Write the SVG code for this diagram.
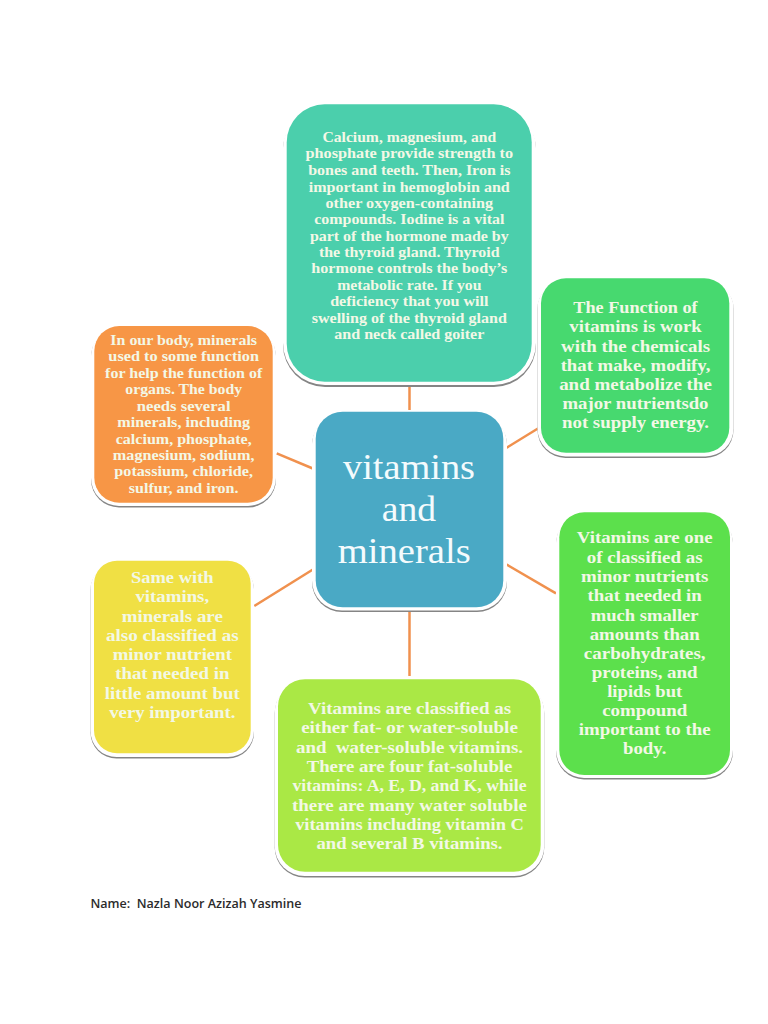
<svg xmlns="http://www.w3.org/2000/svg" width="768" height="1024" viewBox="0 0 768 1024">
<style>
.g{fill:#858585;filter:url(#b)}
.h{fill:#fff}
.t{font-family:"Liberation Serif",serif;font-weight:bold;fill:#f3f8e6;text-anchor:middle}
.c{stroke:#f0914e;stroke-width:2.5;fill:none}
</style>
<defs><filter id="b" x="-5%" y="-5%" width="110%" height="110%"><feGaussianBlur stdDeviation="0.6"/></filter></defs>
<rect width="768" height="1024" fill="#fff"/>
<g id="connectors">
<line class="c" x1="409.500" y1="387" x2="409.500" y2="410"/>
<line class="c" x1="276.700" y1="453.300" x2="314" y2="469"/>
<line class="c" x1="505.700" y1="448.300" x2="538.300" y2="428.300"/>
<line class="c" x1="254.300" y1="606" x2="313.300" y2="569.300"/>
<line class="c" x1="505.700" y1="564" x2="556" y2="593.300"/>
<line class="c" x1="409.500" y1="612" x2="409.500" y2="676"/>
</g>
<g id="node-top">
<rect class="g" x="283" y="108" width="253" height="279" rx="42"/>
<rect class="h" x="283" y="106" width="253" height="279" rx="42"/>
<rect x="286.700" y="104.300" width="245" height="277.400" rx="38" fill="#4bcfac"/>
<g class="t" font-size="15.500">
<text x="409.300" y="141.700" textLength="173.700" lengthAdjust="spacingAndGlyphs">Calcium, magnesium, and</text>
<text x="409.300" y="158.300" textLength="207.700" lengthAdjust="spacingAndGlyphs">phosphate provide strength to</text>
<text x="409.300" y="175" textLength="202.300" lengthAdjust="spacingAndGlyphs">bones and teeth. Then, Iron is</text>
<text x="409.300" y="191.700" textLength="201" lengthAdjust="spacingAndGlyphs">important in hemoglobin and</text>
<text x="409.300" y="208.300" textLength="167.700" lengthAdjust="spacingAndGlyphs">other oxygen-containing</text>
<text x="409.300" y="224.300" textLength="190.300" lengthAdjust="spacingAndGlyphs">compounds. Iodine is a vital</text>
<text x="409.300" y="241" textLength="198.700" lengthAdjust="spacingAndGlyphs">part of the hormone made by</text>
<text x="409.300" y="256.700" textLength="180.700" lengthAdjust="spacingAndGlyphs">the thyroid gland. Thyroid</text>
<text x="409.300" y="273.300" textLength="196" lengthAdjust="spacingAndGlyphs">hormone controls the body’s</text>
<text x="409.300" y="290" textLength="144.300" lengthAdjust="spacingAndGlyphs">metabolic rate. If you</text>
<text x="409.300" y="306" textLength="158.300" lengthAdjust="spacingAndGlyphs">deficiency that you will</text>
<text x="409.300" y="322.700" textLength="195.300" lengthAdjust="spacingAndGlyphs">swelling of the thyroid gland</text>
<text x="409.300" y="339.300" textLength="150" lengthAdjust="spacingAndGlyphs">and neck called goiter</text>
</g>
</g>
<g id="node-right-top">
<rect class="g" x="537.500" y="281" width="196" height="177" rx="28"/>
<rect class="h" x="537.500" y="280" width="196" height="176.500" rx="28"/>
<rect x="541" y="278.300" width="188.300" height="174.400" rx="25" fill="#47d96f"/>
<g class="t" font-size="17.500">
<text x="635.500" y="312.700" textLength="124.300" lengthAdjust="spacingAndGlyphs">The Function of</text>
<text x="635.500" y="332" textLength="132.300" lengthAdjust="spacingAndGlyphs">vitamins is work</text>
<text x="635.500" y="351.700" textLength="149" lengthAdjust="spacingAndGlyphs">with the chemicals</text>
<text x="635.500" y="370.700" textLength="149.700" lengthAdjust="spacingAndGlyphs">that make, modify,</text>
<text x="635.500" y="390" textLength="152.700" lengthAdjust="spacingAndGlyphs">and metabolize the</text>
<text x="635.500" y="409" textLength="146" lengthAdjust="spacingAndGlyphs">major nutrientsdo</text>
<text x="635.500" y="428" textLength="147" lengthAdjust="spacingAndGlyphs">not supply energy.</text>
</g>
</g>
<g id="node-left-top">
<rect class="g" x="91" y="329" width="185" height="178.500" rx="28"/>
<rect class="h" x="91" y="328" width="185" height="178" rx="28"/>
<rect x="94.300" y="326" width="178.400" height="176.700" rx="25" fill="#f79646"/>
<g class="t" font-size="15.500">
<text x="183.700" y="345" textLength="146.700" lengthAdjust="spacingAndGlyphs">In our body, minerals</text>
<text x="183.700" y="361" textLength="150.700" lengthAdjust="spacingAndGlyphs">used to some function</text>
<text x="183.700" y="377.500" textLength="157.300" lengthAdjust="spacingAndGlyphs">for help the function of</text>
<text x="183.700" y="394" textLength="116.700" lengthAdjust="spacingAndGlyphs">organs. The body</text>
<text x="183.700" y="410.500" textLength="93.700" lengthAdjust="spacingAndGlyphs">needs several</text>
<text x="183.700" y="427" textLength="132.700" lengthAdjust="spacingAndGlyphs">minerals, including</text>
<text x="183.700" y="443.500" textLength="136" lengthAdjust="spacingAndGlyphs">calcium, phosphate,</text>
<text x="183.700" y="460" textLength="141.700" lengthAdjust="spacingAndGlyphs">magnesium, sodium,</text>
<text x="183.700" y="476" textLength="138.700" lengthAdjust="spacingAndGlyphs">potassium, chloride,</text>
<text x="183.700" y="492.500" textLength="109.700" lengthAdjust="spacingAndGlyphs">sulfur, and iron.</text>
</g>
</g>
<g id="node-center">
<rect class="g" x="312" y="415" width="195" height="197" rx="30"/>
<rect class="h" x="312" y="414" width="195" height="196.500" rx="30"/>
<rect x="315.700" y="411.700" width="187.600" height="195.600" rx="27" fill="#4aa9c5"/>
<g font-family="Liberation Serif, serif" font-size="36" fill="#f4fbfd" text-anchor="middle">
<text x="409" y="479" textLength="132" lengthAdjust="spacingAndGlyphs">vitamins</text>
<text x="409" y="520.700" textLength="54.300" lengthAdjust="spacingAndGlyphs">and</text>
<text x="404.200" y="563" textLength="133" lengthAdjust="spacingAndGlyphs">minerals</text>
</g>
</g>
<g id="node-left-bottom">
<rect class="g" x="90.500" y="564" width="163.500" height="194.500" rx="26"/>
<rect class="h" x="90.500" y="563" width="163.500" height="194" rx="26"/>
<rect x="94" y="560.700" width="156.700" height="192.600" rx="23" fill="#f0e044"/>
<g class="t" font-size="17.500">
<text x="172.300" y="582.700" textLength="82.700" lengthAdjust="spacingAndGlyphs">Same with</text>
<text x="172.300" y="602" textLength="73.700" lengthAdjust="spacingAndGlyphs">vitamins,</text>
<text x="172.300" y="621.700" textLength="101" lengthAdjust="spacingAndGlyphs">minerals are</text>
<text x="172.300" y="641" textLength="132.700" lengthAdjust="spacingAndGlyphs">also classified as</text>
<text x="172.300" y="660" textLength="119.300" lengthAdjust="spacingAndGlyphs">minor nutrient</text>
<text x="172.300" y="679" textLength="114.300" lengthAdjust="spacingAndGlyphs">that needed in</text>
<text x="172.300" y="698.700" textLength="135" lengthAdjust="spacingAndGlyphs">little amount but</text>
<text x="172.300" y="717.700" textLength="126.300" lengthAdjust="spacingAndGlyphs">very important.</text>
</g>
</g>
<g id="node-right-bottom">
<rect class="g" x="556" y="516" width="177" height="263.500" rx="28"/>
<rect class="h" x="556" y="515" width="177" height="263" rx="28"/>
<rect x="559.300" y="512.300" width="170.700" height="262.700" rx="25" fill="#5ce04c"/>
<g class="t" font-size="17.500">
<text x="644.700" y="543.300" textLength="135.700" lengthAdjust="spacingAndGlyphs">Vitamins are one</text>
<text x="644.700" y="562.500" textLength="115.700" lengthAdjust="spacingAndGlyphs">of classified as</text>
<text x="644.700" y="582" textLength="127.300" lengthAdjust="spacingAndGlyphs">minor nutrients</text>
<text x="644.700" y="601" textLength="114.300" lengthAdjust="spacingAndGlyphs">that needed in</text>
<text x="644.700" y="620.500" textLength="107.700" lengthAdjust="spacingAndGlyphs">much smaller</text>
<text x="644.700" y="639.500" textLength="110" lengthAdjust="spacingAndGlyphs">amounts than</text>
<text x="644.700" y="658.500" textLength="121.700" lengthAdjust="spacingAndGlyphs">carbohydrates,</text>
<text x="644.700" y="677.700" textLength="105.700" lengthAdjust="spacingAndGlyphs">proteins, and</text>
<text x="644.700" y="696.700" textLength="75" lengthAdjust="spacingAndGlyphs">lipids but</text>
<text x="644.700" y="715.700" textLength="85" lengthAdjust="spacingAndGlyphs">compound</text>
<text x="644.700" y="735" textLength="131.700" lengthAdjust="spacingAndGlyphs">important to the</text>
<text x="644.700" y="754" textLength="43.300" lengthAdjust="spacingAndGlyphs">body.</text>
</g>
</g>
<g id="node-bottom">
<rect class="g" x="274.700" y="683" width="269.600" height="194.500" rx="30"/>
<rect class="h" x="274.700" y="682" width="269.600" height="194" rx="30"/>
<rect x="278" y="679.300" width="262.700" height="192.400" rx="27" fill="#aae845"/>
<g class="t" font-size="17.500">
<text x="409.500" y="713.500" textLength="203" lengthAdjust="spacingAndGlyphs">Vitamins are classified as</text>
<text x="409.500" y="733" textLength="216.700" lengthAdjust="spacingAndGlyphs">either fat- or water-soluble</text>
<text x="409.500" y="752.500" textLength="227" lengthAdjust="spacingAndGlyphs" xml:space="preserve">and  water-soluble vitamins.</text>
<text x="409.500" y="772" textLength="205.700" lengthAdjust="spacingAndGlyphs">There are four fat-soluble</text>
<text x="409.500" y="791" textLength="234" lengthAdjust="spacingAndGlyphs">vitamins: A, E, D, and K, while</text>
<text x="409.500" y="810.500" textLength="235" lengthAdjust="spacingAndGlyphs">there are many water soluble</text>
<text x="409.500" y="830" textLength="228.700" lengthAdjust="spacingAndGlyphs">vitamins including vitamin C</text>
<text x="409.500" y="849" textLength="186" lengthAdjust="spacingAndGlyphs">and several B vitamins.</text>
</g>
</g>
<text x="90.500" y="908" font-family="Open Sans, sans-serif" font-size="13" font-weight="600" fill="#2b2b2b" textLength="211" lengthAdjust="spacingAndGlyphs" xml:space="preserve">Name:  Nazla Noor Azizah Yasmine</text>
</svg>
